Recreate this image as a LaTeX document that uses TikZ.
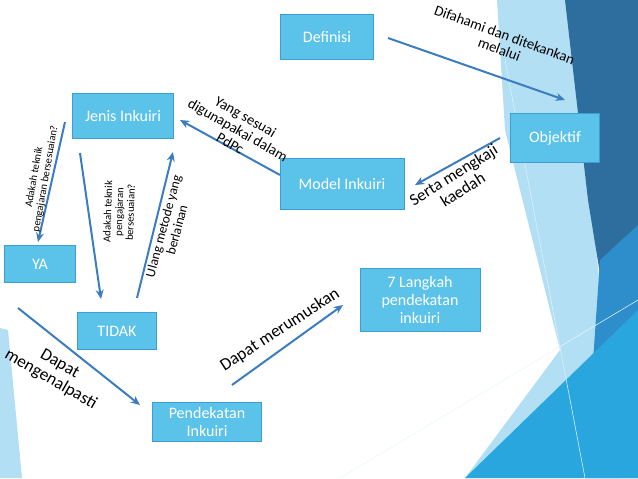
\documentclass[tikz,border=0pt]{standalone}
\usepackage{fontspec}
\setmainfont{Carlito}
\usetikzlibrary{arrows.meta}
\definecolor{boxf}{HTML}{5BC2EA}
\definecolor{boxd}{HTML}{3A9FD2}
\definecolor{arr}{HTML}{3C7DBF}
\definecolor{lb}{HTML}{B2DFF4}
\definecolor{db}{HTML}{2D6E9E}
\definecolor{mb}{HTML}{2E8DCB}
\definecolor{cb}{HTML}{2AA6DE}
\tikzset{
 box/.style={draw=boxd,fill=boxf,text=white,font=\fontsize{12}{13.5}\selectfont,align=center,minimum height=34pt,inner sep=2pt},
 conn/.style={draw=arr,line width=1.5pt,-{Stealth[length=7pt,width=6pt]}},
 lab/.style={font=\fontsize{11}{11.5}\selectfont,align=center,inner sep=0pt},
 slab/.style={font=\fontsize{8}{8.5}\selectfont,align=center,inner sep=0pt},
 blab/.style={font=\fontsize{13}{13.5}\selectfont,align=center,inner sep=0pt}
}
\begin{document}
\begin{tikzpicture}[x=0.75pt,y=-0.75pt]
\useasboundingbox (0,0) rectangle (638,478);
\fill[lb] (497,0)--(570,0)--(620,478)--(465,478)--(560,350)--(505,130)--cycle;
\fill[db] (565,0)--(638,0)--(638,330)--(618,385)--(588,200)--cycle;
\fill[mb] (600,260)--(638,225)--(638,478)--(585,478)--cycle;
\fill[cb] (465,478)--(638,310)--(638,478)--cycle;
\fill[lb] (0,328)--(8,330)--(22,478)--(0,478)--cycle;
\draw[white!70!lb,line width=0.4pt] (340,478)--(638,300);
\draw[white!60!lb,line width=0.4pt] (505,60)--(585,478);

\node[box,minimum width=70pt] (def) at (327,37) {Definisi};
\node[box,minimum width=67pt,minimum height=37pt] (obj) at (555,138) {Objektif};
\node[box,minimum width=76pt] (jen) at (123,116) {Jenis Inkuiri};
\node[box,minimum width=93pt,minimum height=38pt] (mod) at (342,184) {Model Inkuiri};
\node[box,minimum width=53pt,minimum height=28pt] (ya) at (40,264) {YA};
\node[box,minimum width=59pt,minimum height=28pt] (tid) at (117,331) {TIDAK};
\node[box,minimum width=90pt,minimum height=47pt] (lan) at (420,300) {7 Langkah\\pendekatan\\inkuiri};
\node[box,minimum width=82pt,minimum height=29pt] (pen) at (207,422) {Pendekatan\\Inkuiri};

\coordinate (a1) at (388,38); \coordinate (a2) at (565,100);
\coordinate (b1) at (500,138); \coordinate (b2) at (415,185);
\coordinate (c1) at (280,175); \coordinate (c2) at (180,120);
\coordinate (d1) at (65,122); \coordinate (d2) at (38,242);
\coordinate (e1) at (80,153); \coordinate (e2) at (101,299);
\coordinate (f1) at (137,298); \coordinate (f2) at (173,152);
\coordinate (g1) at (18,308); \coordinate (g2) at (140,405);
\coordinate (h1) at (232,385); \coordinate (h2) at (343,305);
\draw[conn] (a1)--(a2);
\draw[conn] (b1)--(b2);
\draw[conn] (c1)--(c2);
\draw[conn] (d1)--(d2);
\draw[conn] (e1)--(e2);
\draw[conn] (f1)--(f2);
\draw[conn] (g1)--(g2);
\draw[conn] (h1)--(h2);

\node[lab,rotate=-20] (la) at (502,42) {Difahami dan ditekankan\\melalui};
\node[lab,rotate=32,font=\fontsize{12.5}{13}\selectfont] (lb1) at (458,182) {Serta mengkaji\\kaedah};
\node[lab,rotate=-30] (lc) at (238,130) {Yang sesuai\\digunapakai dalam\\PdPc};
\node[slab,rotate=80] (ld) at (40,178) {Adakah teknik\\pengajaran bersesuaian?};
\node[slab,rotate=88] (le) at (119,212) {Adakah teknik\\pengajaran\\bersesuaian?};
\node[lab,rotate=75,font=\fontsize{10}{10.5}\selectfont] (lf) at (170,228) {Ulang metode yang\\berlainan};
\node[blab,rotate=-30] (lg) at (55,372) {Dapat\\mengenalpasti};
\node[blab,rotate=33] (lh) at (280,330) {Dapat merumuskan};
\end{tikzpicture}
\end{document}
